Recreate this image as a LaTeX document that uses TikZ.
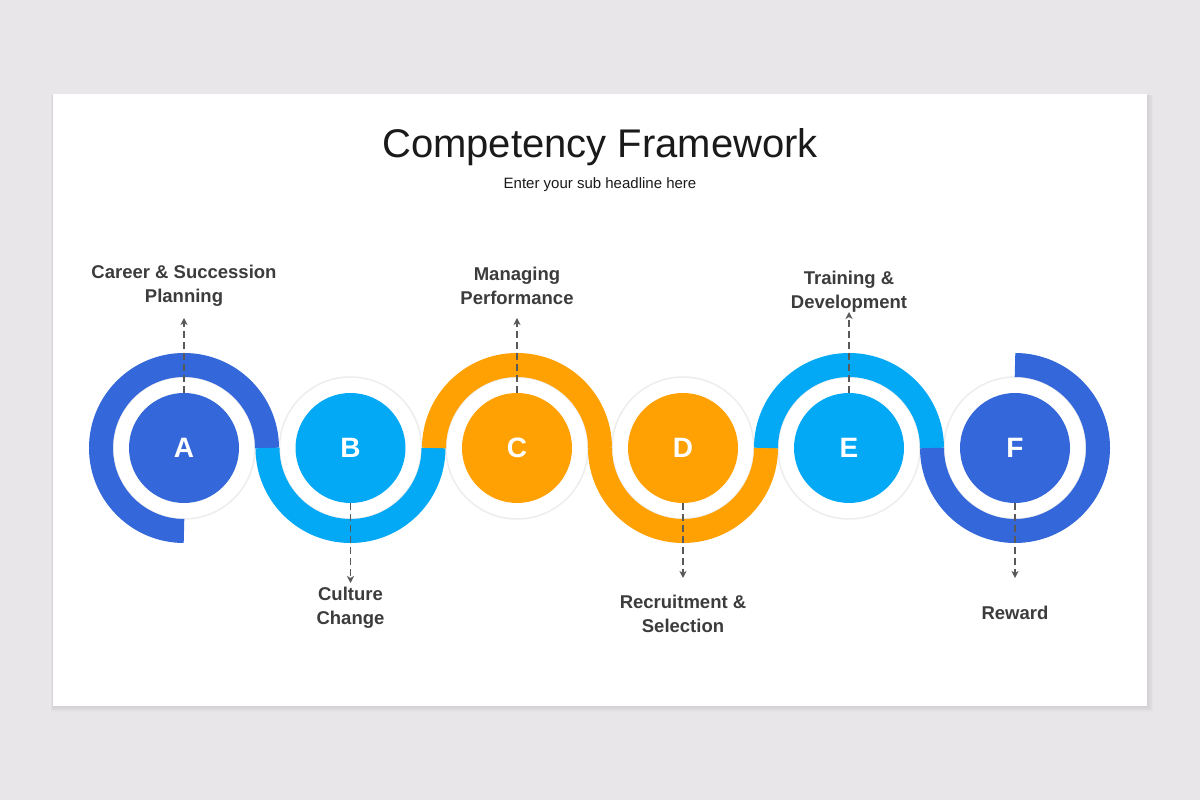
\documentclass[tikz,border=0pt]{standalone}
\usepackage{fontspec}
\setmainfont{Liberation Sans}
\usetikzlibrary{arrows.meta}
\definecolor{bg}{HTML}{E8E6E8}
\definecolor{cdark}{HTML}{3468DA}
\definecolor{clight}{HTML}{03A9F4}
\definecolor{corange}{HTML}{FFA102}
\definecolor{ctext}{HTML}{3C3C3C}
\definecolor{ctitle}{HTML}{1A1A1A}
\begin{document}
\begin{tikzpicture}[x=1pt,y=1pt,
  ring/.style={circle,minimum size=142pt,inner sep=0pt,fill=white,draw=black!7,line width=1.5pt},
  disc/.style={circle,minimum size=110pt,inner sep=0pt,text=white,font=\fontsize{28}{30}\selectfont\bfseries},
  band/.style={line width=24pt,line cap=butt},
  conn/.style={draw=black!65,line width=1.4pt,dash pattern=on 7pt off 4pt,-{Stealth[length=7pt,width=7pt,inset=2pt]}},
  lab/.style={align=center,text=ctext,font=\fontsize{18.5}{24}\selectfont\bfseries,inner sep=0pt}
]
\useasboundingbox (0,0) rectangle (1200,800);
\fill[bg] (0,0) rectangle (1200,800);
% card shadow
\foreach \i in {1,...,7}{
  \fill[black,opacity=0.012] (53-\i*0.3,94-\i*0.9) rectangle (1147+\i*0.9,706-\i*0.2);
}
\fill[white] (53,94) rectangle (1147,706);
% titles
\node[text=ctitle,font=\fontsize{40}{44}\selectfont,inner sep=0pt] (title) at (600,653) {Competency Framework};
\node[text=ctitle,font=\fontsize{15}{18}\selectfont,inner sep=0pt] (sub) at (600,615) {Enter your sub headline here};
% rings
\node[ring] (rA) at (184,352) {};
\node[ring] (rB) at (350.5,352) {};
\node[ring] (rC) at (517,352) {};
\node[ring] (rD) at (683,352) {};
\node[ring] (rE) at (849,352) {};
\node[ring] (rF) at (1015,352) {};
% bands
\draw[band,cdark] ([shift={(0:83)}]rA.center) arc[start angle=0,end angle=270,radius=83];
\draw[band,clight] ([shift={(180:83)}]rB.center) arc[start angle=180,end angle=360,radius=83];
\draw[band,corange] ([shift={(180:83)}]rC.center) arc[start angle=180,end angle=0,radius=83];
\draw[band,corange] ([shift={(180:83)}]rD.center) arc[start angle=180,end angle=360,radius=83];
\draw[band,clight] ([shift={(180:83)}]rE.center) arc[start angle=180,end angle=0,radius=83];
\draw[band,cdark] ([shift={(180:83)}]rF.center) arc[start angle=180,end angle=450,radius=83];
% discs
\node[disc,fill=cdark] (A) at (rA.center) {A};
\node[disc,fill=clight] (B) at (rB.center) {B};
\node[disc,fill=corange] (C) at (rC.center) {C};
\node[disc,fill=corange] (D) at (rD.center) {D};
\node[disc,fill=clight] (E) at (rE.center) {E};
\node[disc,fill=cdark] (F) at (rF.center) {F};
% arrow ends
\coordinate (tA) at (184,482);
\coordinate (tB) at (350.5,217);
\coordinate (tC) at (517,482);
\coordinate (tD) at (683,222);
\coordinate (tE) at (849,488);
\coordinate (tF) at (1015,222);
\draw[conn] (A.north) -- (tA);
\draw[conn] (B.south) -- (tB);
\draw[conn] (C.north) -- (tC);
\draw[conn] (D.south) -- (tD);
\draw[conn] (E.north) -- (tE);
\draw[conn] (F.south) -- (tF);
% labels
\node[lab] (lA) at (184,514) {Career \& Succession\\Planning};
\node[lab] (lB) at (350.5,192) {Culture\\Change};
\node[lab] (lC) at (517,514) {Managing\\Performance};
\node[lab] (lD) at (683,186.5) {Recruitment \&\\Selection};
\node[lab] (lE) at (849,508.5) {Training \&\\Development};
\node[lab] (lF) at (1015,187) {Reward};
\end{tikzpicture}
\end{document}
